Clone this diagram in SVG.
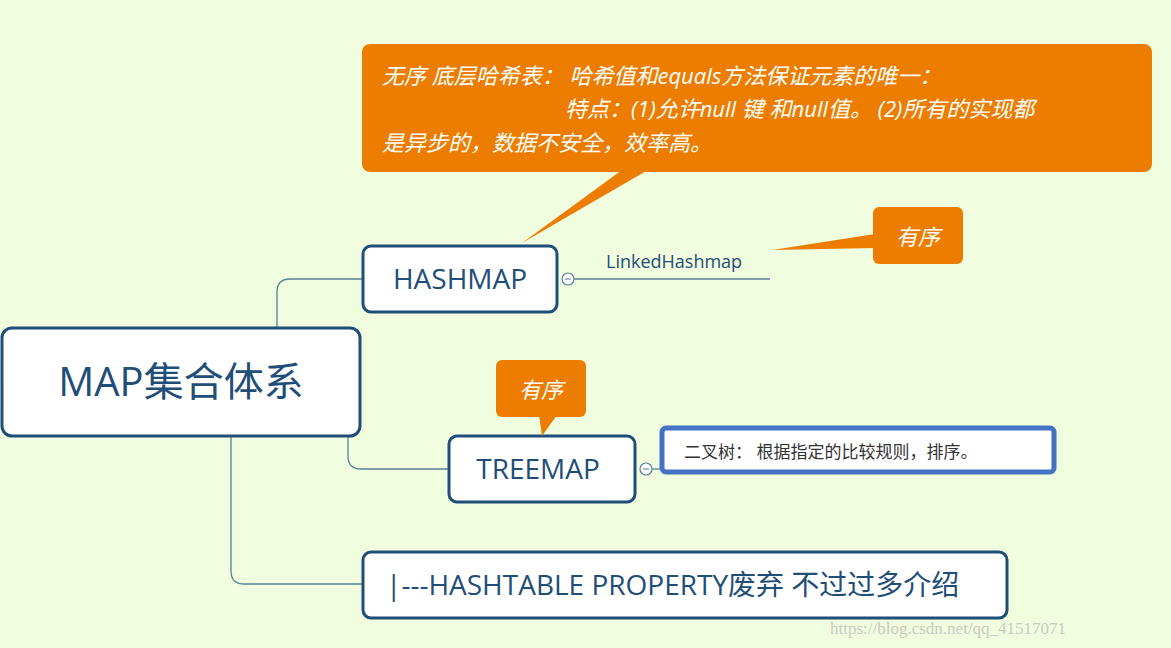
<svg xmlns="http://www.w3.org/2000/svg" width="1171" height="648" viewBox="0 0 1171 648">
<style>
.node{fill:#fff;stroke:#1f4e79;stroke-width:3}
.nt{font-family:"Open Sans","Noto Sans CJK SC",sans-serif;fill:#1f4e79}
.co{fill:#ed7d00}
.ct{font-family:"Open Sans","Noto Sans CJK SC",sans-serif;fill:#fff;font-style:italic;font-size:22px}
.ln{fill:none;stroke:#5b7f99;stroke-width:1.3}
.tg{fill:#fff;stroke:#5b7f99;stroke-width:1.2}
</style>
<rect width="1171" height="648" fill="#f1fddf"/>
<g id="connectors">
<path class="ln" d="M277,328 V292 Q277,279 290,279 H363"/>
<path class="ln" d="M348,436 V456 Q348,469 361,469 H449"/>
<path class="ln" d="M231,436 V571 Q231,584 244,584 H363"/>
<path class="ln" d="M574,279 H770"/>
<path class="ln" d="M652,469 H662"/>
<circle class="tg" cx="568" cy="279" r="6"/>
<line x1="565" y1="279" x2="571" y2="279" stroke="#5b7f99"/>
<circle class="tg" cx="646" cy="469" r="6"/>
<line x1="643" y1="469" x2="649" y2="469" stroke="#5b7f99"/>
</g>
<g id="map"><rect class="node" x="2" y="328" width="358" height="108" rx="10"/><text class="nt" x="181" y="396" font-size="40" text-anchor="middle">MAP集合体系</text></g>
<g id="hashmap"><rect class="node" x="363" y="246" width="194" height="66" rx="8"/><text class="nt" x="460" y="289" font-size="28" text-anchor="middle">HASHMAP</text></g>
<g id="linked"><text class="nt" x="606" y="268" font-size="18">LinkedHashmap</text></g>
<g id="treemap"><rect class="node" x="449" y="436" width="186" height="66" rx="8"/><text class="nt" x="538" y="479" font-size="28" text-anchor="middle">TREEMAP</text></g>
<g id="hashtable"><rect class="node" x="363" y="552" width="644" height="66" rx="8"/><text class="nt" x="386" y="595" font-size="28">|---HASHTABLE PROPERTY废弃 不过过多介绍</text></g>
<g id="note-hash">
<polygon class="co" points="622,170 648,170 522,243"/>
<rect class="co" x="362" y="44" width="790" height="128" rx="8"/>
<text class="ct" x="382" y="84">无序 底层哈希表： 哈希值和equals方法保证元素的唯一：</text>
<text class="ct" x="565" y="117">特点：(1)允许null 键 和null值。 (2)所有的实现都</text>
<text class="ct" x="382" y="151">是异步的，数据不安全，效率高。</text>
</g>
<g id="note-linked">
<polygon class="co" points="875,234 875,248 772,250"/>
<rect class="co" x="873" y="207" width="90" height="57" rx="6"/>
<text class="ct" x="918" y="245" text-anchor="middle">有序</text>
</g>
<g id="note-tree">
<polygon class="co" points="539,415 557,415 542,436"/>
<rect class="co" x="496" y="360" width="90" height="57" rx="6"/>
<text class="ct" x="541" y="398" text-anchor="middle">有序</text>
</g>
<g id="tree-desc"><rect x="662" y="428" width="392" height="44" rx="4" fill="#fff" stroke="#4472c4" stroke-width="5"/><text x="684" y="458" font-size="17" fill="#333" font-family="'Open Sans','Noto Sans CJK SC',sans-serif">二叉树： 根据指定的比较规则，排序。</text></g>
<text x="830" y="634" font-size="17" fill="#c8ccc0" font-family="'Liberation Serif',serif">https://blog.csdn.net/qq_41517071</text>
</svg>
